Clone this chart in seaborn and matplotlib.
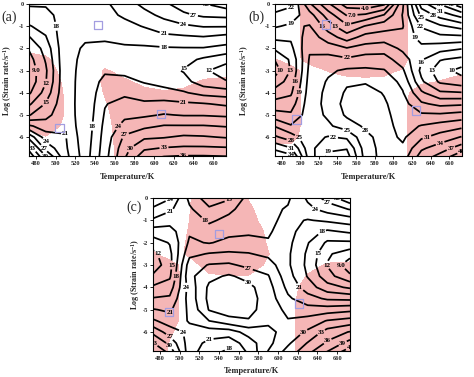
import numpy as np
import matplotlib
matplotlib.use('Agg')
import matplotlib.pyplot as plt
import seaborn as sns

# ---------------- data ----------------
temperature_K = [473, 490, 510, 530, 550, 570, 590, 610, 630, 650, 673]
log_strain_rate = [0, -0.5, -1, -1.5, -2, -2.5, -3, -3.5, -4, -4.5, -5, -5.5, -6, -6.5, -6.9]

# power-dissipation efficiency (%), one list per temperature column (top -> bottom)
eta_a_columns = [
    [18.4, 16.5, 14.8, 11.8, 9.3, 7.8, 7.0, 7.0, 8.5, 11.5, 14.8, 21.5, 29.0, 35.0, 38.5],
    [18.3, 17.2, 16.0, 14.8, 13.2, 12.3, 11.5, 11.8, 13.2, 15.2, 17.0, 19.5, 22.5, 26.0, 30.5],
    [18.6, 19.2, 19.8, 20.2, 20.4, 20.5, 20.5, 20.5, 20.4, 20.3, 20.3, 20.5, 21.2, 21.5, 22.0],
    [19.5, 20.0, 19.8, 18.8, 17.2, 16.3, 15.8, 15.5, 15.5, 15.5, 15.6, 15.8, 16.0, 16.3, 16.5],
    [20.5, 20.0, 19.3, 18.4, 17.3, 16.8, 17.5, 19.0, 20.0, 20.8, 21.3, 21.8, 22.2, 22.5, 22.8],
    [22.5, 21.5, 20.0, 18.8, 17.6, 17.0, 17.3, 18.8, 20.3, 22.2, 23.3, 25.0, 27.5, 29.0, 29.7],
    [24.8, 23.0, 21.2, 19.2, 17.6, 16.8, 16.6, 17.8, 19.5, 21.5, 23.5, 26.3, 29.5, 32.5, 35.0],
    [26.5, 24.8, 22.5, 20.3, 17.7, 16.5, 16.0, 16.8, 19.2, 21.8, 24.2, 27.2, 29.8, 33.2, 36.2],
    [28.3, 26.5, 23.5, 20.5, 17.8, 16.0, 14.8, 16.0, 18.3, 21.5, 23.8, 27.2, 30.5, 33.5, 36.5],
    [29.8, 27.5, 24.2, 20.8, 17.8, 14.5, 12.5, 13.5, 17.0, 21.2, 23.8, 27.2, 30.3, 33.5, 36.5],
    [31.5, 27.8, 24.2, 20.0, 17.0, 13.0, 10.5, 12.2, 16.5, 20.5, 23.5, 26.8, 29.8, 33.3, 36.3],
]
eta_b_columns = [
    [23.5, 21.5, 19.3, 16.8, 13.5, 10.2, 8.5, 11.5, 14.2, 17.2, 20.2, 24.8, 28.5, 33.2, 37.2],
    [22.6, 20.5, 18.5, 16.5, 15.2, 13.5, 13.2, 14.2, 15.5, 17.5, 19.5, 22.3, 26.5, 31.2, 35.2],
    [13.5, 17.3, 19.2, 20.6, 21.6, 22.3, 22.8, 23.2, 23.5, 23.7, 23.6, 23.2, 23.0, 23.0, 23.5],
    [7.5, 11.5, 14.5, 17.5, 20.5, 23.2, 24.5, 25.3, 25.7, 25.8, 25.5, 24.5, 21.8, 19.5, 18.3],
    [2.5, 6.8, 10.5, 14.5, 19.2, 22.5, 25.5, 27.5, 28.5, 29.2, 28.5, 26.5, 22.5, 19.2, 17.5],
    [1.5, 7.5, 13.2, 17.2, 20.2, 23.5, 25.5, 27.7, 29.2, 29.5, 29.2, 28.5, 27.2, 26.5, 26.2],
    [3.5, 10.2, 14.8, 17.5, 20.8, 23.2, 25.2, 26.8, 27.8, 28.4, 28.8, 29.2, 29.2, 29.2, 29.2],
    [15.5, 16.2, 15.8, 16.8, 18.3, 20.5, 22.5, 24.2, 25.2, 26.2, 26.5, 26.8, 27.5, 28.5, 29.5],
    [29.5, 25.8, 22.3, 20.2, 18.2, 16.3, 15.2, 16.5, 19.5, 22.5, 25.5, 28.2, 30.5, 33.5, 35.5],
    [34.2, 29.2, 24.5, 21.2, 17.2, 13.2, 11.2, 12.5, 16.5, 21.2, 25.5, 29.2, 32.2, 35.5, 38.2],
    [39.2, 32.2, 26.2, 21.2, 16.2, 12.2, 9.0, 11.2, 16.2, 21.5, 26.2, 30.2, 34.2, 38.5, 42.5],
]
eta_c_columns = [
    [26.2, 23.5, 20.5, 16.5, 13.5, 11.2, 10.2, 12.5, 15.5, 18.2, 21.2, 24.5, 29.2, 33.2, 36.2],
    [24.3, 21.5, 19.2, 16.8, 15.2, 14.2, 13.8, 14.5, 16.5, 18.5, 20.5, 22.5, 25.5, 29.2, 32.2],
    [17.2, 18.5, 19.8, 20.6, 21.5, 23.2, 25.5, 26.2, 25.3, 25.2, 24.6, 24.2, 23.3, 22.5, 22.2],
    [13.2, 15.5, 17.5, 19.2, 20.8, 24.2, 27.2, 29.2, 30.6, 30.8, 30.2, 27.0, 22.5, 20.2, 19.2],
    [14.5, 17.3, 18.8, 20.2, 21.8, 24.5, 27.5, 30.4, 31.8, 32.0, 31.5, 29.0, 22.5, 19.2, 17.2],
    [19.2, 19.5, 20.2, 20.6, 21.8, 24.2, 26.2, 29.0, 30.8, 31.2, 30.8, 29.8, 25.2, 22.5, 21.5],
    [19.5, 20.2, 20.3, 20.7, 21.2, 23.2, 25.5, 27.2, 28.2, 28.6, 28.8, 27.6, 26.2, 26.2, 27.2],
    [20.5, 21.3, 21.8, 22.2, 21.8, 21.5, 21.5, 22.2, 23.2, 24.5, 26.2, 27.2, 28.2, 29.5, 31.2],
    [24.5, 23.2, 20.8, 19.2, 18.2, 17.5, 17.3, 17.8, 19.5, 22.2, 25.2, 28.2, 30.5, 33.2, 35.2],
    [28.2, 25.2, 21.5, 17.5, 14.5, 12.5, 11.8, 13.2, 16.2, 20.5, 25.5, 30.2, 34.2, 36.5, 39.2],
    [32.5, 27.2, 22.5, 18.5, 14.5, 10.2, 7.2, 9.5, 14.5, 20.2, 26.2, 31.2, 36.2, 40.2, 44.0],
]

# instability parameter (negative = unstable domain), same layout
xi_a_columns = [
    [3, 2.5, 2, 1.4, 0.4, -0.6, -1, -1, -1, -1, -1, -0.4, 0.6, 1.5, 2],
    [3, 2.5, 2, 1.5, 0.7, -0.3, -1, -1, -1, -1, -1, -0.5, 0.05, 1, 1.5],
    [3, 2.5, 2, 1.6, 1.2, 1.0, 0.8, 0.3, 0.15, 0.1, 0.1, 0.2, 0.6, 1, 1.5],
    [3, 2.5, 2, 1.6, 1.3, 1.2, 1.0, 1.0, 1.2, 1.3, 1.4, 1.5, 1.6, 1.7, 1.8],
    [3, 2.5, 2, 1.5, 1.0, 0.5, -0.1, -0.25, -0.1, 0.15, 0.4, 0.6, 0.8, 0.9, 1.0],
    [3, 2.5, 2, 1.5, 1.2, 0.8, 0.35, -0.15, -1, -1, -1, -1, -1, -1, -1],
    [3, 2.5, 2, 1.6, 1.3, 1.0, 0.7, 0.25, -0.25, -1, -1, -1, -1, -1, -1],
    [3, 2.5, 2, 1.6, 1.3, 1.0, 0.8, 0.4, -0.1, -1, -1, -1, -1, -1, -1],
    [3, 2.5, 2, 1.6, 1.3, 1.0, 0.8, 0.3, -0.2, -1, -1, -1, -1, -1, -1],
    [3, 2.5, 2, 1.5, 1.2, 0.8, 0.4, -0.1, -1, -1, -1, -1, -1, -1, -1],
    [3, 2.5, 2, 1.5, 1.0, 0.7, 0.3, -0.2, -1, -1, -1, -1, -1, -1, -1],
]
xi_b_columns = [
    [2, 2, 2, 1.5, 0.8, -0.1, -1, -1, -1, -1, -1, -1, -0.6, 0.4, 1],
    [1, 1, 1, 1, 1, 1.0, -0.8, -1, -1, -1, -1, -1, -0.6, 0.4, 1],
    [-1, -1, -1, -1, -1, -0.8, 1.0, 1, 1, 1, 1, 1, 1, 1, 1],
    [-1, -1, -1, -1, -1, -1, -0.1, 0.8, 1, 1, 1, 1, 1, 1, 1],
    [-1, -1, -1, -1, -1, -1, -0.5, 0.5, 1, 1, 1, 1, 1, 1, 1],
    [-1, -1, -1, -1, -1, -1, -0.6, 0.4, 1, 1, 1, 1, 1, 1, 1],
    [-1, -1, -1, -1, -1, -1, -0.5, 0.5, 1, 1, 1, 1, 1, 1, 1],
    [-1, -1, -1, -1, -1, -1, 0.2, 1, 1, 1, 1, 1, 1, 1, 1],
    [3, 3, 3, 3, 3, 3, 3, 0.6, -1.8, -3, -3, -3, -3, -3, -3],
    [3, 3, 3, 3, 3, 2, 0.9, -0.1, -1.5, -1.5, -1.5, -1.5, -1.5, -1.5, -1.5],
    [3, 3, 3, 3, 3, 2, 0.4, -0.6, -1.5, -1.5, -1.5, -1.5, -1.5, -1.5, -1.5],
]
xi_c_columns = [
    [2, 2, 2, 1.5, 0.6, -0.2, -1, -1, -1, -1, -1, -1, -1, -1, -1],
    [2, 2, 2, 1.5, 1.0, 0.8, -0.6, -1, -1, -1, -1, -0.8, -0.2, 0.1, 0.2],
    [0.2, 0.1, 0.0, -0.15, -0.25, -0.3, 0.8, 1, 1.2, 1.2, 1.2, 1, 1, 1, 1],
    [-1.8, -1.8, -1.8, -1.8, -1.8, -1.5, -0.8, 0.3, 1, 1, 1, 1, 1, 1, 1],
    [-2, -2, -2, -2, -2, -1.5, -1, 0.05, 1, 1, 1, 1, 1, 1, 1],
    [0.1, -0.3, -0.6, -0.9, -1, -1, -0.9, 0.1, 1, 1, 1, 1, 1, 1, 1],
    [1, 0.9, 0.7, 0.3, 0.15, -0.05, 0.3, 1, 1, 1, 1, 1, 1, 1, 1],
    [1, 1, 1, 1, 1, 1, 1, 1.2, 1.2, 0.8, 0.6, 0.6, 0.6, 0.6, 0.6],
    [1, 1, 1, 1, 1, 1, 0.4, -0.1, -1, -1, -1, -1, -1, -1, -1],
    [1, 1, 1, 1, 1, 0.5, -0.1, -1.5, -1.5, -1.5, -1.5, -1.5, -1.5, -1.5, -1.5],
    [1, 1, 1, 1, 1, 0.4, -0.15, -1.5, -1.5, -1.5, -1.5, -1.5, -1.5, -1.5, -1.5],
]

levels_a = [9, 12, 15, 18, 21, 24, 27, 30, 33, 36, 39]
levels_b = [4, 7, 10, 13, 16, 19, 22, 25, 28, 31, 34, 37, 40]
levels_c = [9, 12, 15, 18, 21, 24, 27, 30, 33, 36, 39, 42]

# marked sample conditions (temperature K, log strain rate)
squares_a_T = [543, 504, 607]
squares_a_rate = [-0.95, -5.6, -4.95]
squares_b_T = [528, 496, 624]
squares_b_rate = [-0.93, -5.2, -4.8]
squares_c_T = [540, 489, 621]
squares_c_rate = [-1.62, -5.1, -4.73]

x_ticks = [480, 500, 520, 540, 560, 580, 600, 620, 640, 660]
y_ticks = [0, -1, -2, -3, -4, -5, -6]
panel_names = ['(a)', '(b)', '(c)']
x_label = 'Temperature/K'
y_label = 'Log (Strain rate/s$^{-1}$)'

# ---------------- style ----------------
sns.set_style('ticks')
plt.rcParams['font.family'] = ['Liberation Serif', 'DejaVu Serif']
plt.rcParams['mathtext.fontset'] = 'custom'
plt.rcParams['mathtext.rm'] = 'Liberation Serif:bold'
plt.rcParams['mathtext.it'] = 'Liberation Serif:bold'
plt.rcParams['mathtext.bf'] = 'Liberation Serif:bold'
plt.rcParams['mathtext.default'] = 'rm'

PINK = '#f5b6b6'
SQUARE = '#a39de0'
W, H = 474, 377
fig = plt.figure(figsize=(W / 100, H / 100), dpi=100)


def fmt(v):
    return f'{v:.1f}' if v < 10 else f'{v:.0f}'


T_grid, R_grid = np.meshgrid(temperature_K, log_strain_rate)

panels = [
    dict(box=(29, 4, 226, 156), eta=eta_a_columns, xi=xi_a_columns, levels=levels_a,
         sq=(squares_a_T, squares_a_rate), name=panel_names[0], name_xy=(9, 17),
         ylab_x=-0.075, xlab_y=-0.115),
    dict(box=(275, 4, 461.5, 156), eta=eta_b_columns, xi=xi_b_columns, levels=levels_b,
         sq=(squares_b_T, squares_b_rate), name=panel_names[1], name_xy=(256, 17),
         ylab_x=-0.13, xlab_y=-0.115),
    dict(box=(153, 198, 350, 351), eta=eta_c_columns, xi=xi_c_columns, levels=levels_c,
         sq=(squares_c_T, squares_c_rate), name=panel_names[2], name_xy=(134, 207),
         ylab_x=-0.055, xlab_y=-0.105),
]

for p in panels:
    x0, y0, x1, y1 = p['box']
    ax = fig.add_axes([x0 / W, 1 - y1 / H, (x1 - x0) / W, (y1 - y0) / H])
    eta = np.array(p['eta'], dtype=float).T
    xi = np.array(p['xi'], dtype=float).T
    ax.contourf(T_grid, R_grid, xi, levels=[-100, 0], colors=[PINK], zorder=1)
    cs = ax.contour(T_grid, R_grid, eta, levels=p['levels'], colors='black',
                    linewidths=1.25, zorder=2)
    texts = ax.clabel(cs, fmt=fmt, fontsize=5, inline=True, inline_spacing=1)
    for t in texts:
        t.set_fontweight('bold')
        t.set_rotation(0)
    sns.scatterplot(x=p['sq'][0], y=p['sq'][1], ax=ax, marker='s', s=36,
                    facecolor='none', edgecolor=SQUARE, linewidth=0.9,
                    legend=False, zorder=5)
    ax.set_xlim(473, 673)
    ax.set_ylim(-6.85, 0)
    ax.set_xticks(x_ticks)
    ax.set_yticks(y_ticks)
    ax.set_xticklabels([str(v) for v in x_ticks])
    ax.set_yticklabels([str(v) for v in y_ticks])
    ax.tick_params(labelsize=4.6, length=2, width=0.6, pad=1.5, direction='out',
                   color='black')
    for lab in ax.get_xticklabels() + ax.get_yticklabels():
        lab.set_fontweight('bold')
    for s in ax.spines.values():
        s.set_color('black')
        s.set_linewidth(0.8)
    ax.set_xlabel(x_label, fontsize=6, fontweight='bold')
    ax.set_ylabel(y_label, fontsize=5.8, fontweight='bold')
    ax.xaxis.set_label_coords(0.5, p['xlab_y'])
    ax.yaxis.set_label_coords(p['ylab_x'], 0.5)
    fig.text(p['name_xy'][0] / W, 1 - p['name_xy'][1] / H, p['name'],
             fontsize=10, ha='center', va='center')

fig.savefig('out.png', dpi=100)
